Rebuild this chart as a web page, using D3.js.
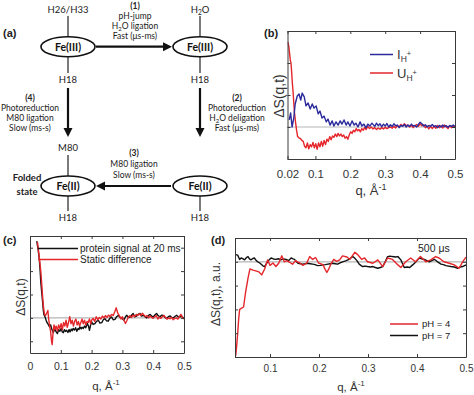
<!DOCTYPE html>
<html><head><meta charset="utf-8">
<script src="https://cdn.jsdelivr.net/npm/d3@7"></script>
<style>body{margin:0;background:#fff}svg{display:block}</style>
</head><body>
<svg id="fig" width="474" height="395"></svg>
<script>
// ---------------- DATA ----------------
// Panel (b): x ticks and two series [q, ΔS]
const bXTicks = [0.02, 0.1, 0.2, 0.3, 0.4, 0.5];
const bYTicks = [-1, 0, 1, 2, 3];
const bIH = [[.025,.22],[.029,.44],[.033,0],[.038,.28],[.042,.72],[.048,.97],[.053,1.03],[.058,.84],[.062,1.06],[.068,.94],[.073,.66],[.079,.75],[.085,.56],[.091,.72],[.096,.59],[.102,.66],[.108,.41],[.113,.5],[.119,.28],[.125,.34],[.131,.16],[.136,.25],[.142,.06],[.148,.19],[.153,.03],[.159,.16],[.165,.06],[.171,.19],[.176,.09],[.182,.22],[.188,.06],[.193,.16],[.199,.03],[.205,.19],[.211,.06],[.216,.12],[.222,0],[.228,.16],[.233,.03],[.239,.09],[.245,-.03],[.25,.09],[.256,.03],[.262,.12],[.27,.02],[.275,.12],[.28,.04],[.285,.1],[.29,.01],[.295,.09],[.3,.03],[.305,.11],[.31,0],[.315,.07],[.32,.02],[.325,.1],[.33,.04],[.335,.06],[.34,-.02],[.345,.05],[.35,.02],[.355,.08],[.36,0],[.365,.06],[.37,.02],[.375,.09],[.38,.03],[.385,.05],[.39,0],[.395,.08],[.4,.15],[.405,.1],[.41,.03],[.415,.07],[.42,0],[.425,.05],[.43,.02],[.435,.08],[.44,.01],[.445,.04],[.45,-.02],[.455,.05],[.46,0],[.465,.06],[.47,.01],[.475,.04],[.48,-.01],[.485,.05],[.49,.02],[.495,.06],[.5,.02]];
const bUH = [[.021,2.66],[.024,2.5],[.026,2.3],[.028,2.09],[.03,2.0],[.032,1.7],[.034,1.35],[.036,1.1],[.038,.75],[.04,.45],[.043,.15],[.046,-.1],[.049,-.3],[.053,-.34],[.057,-.36],[.061,-.42],[.065,-.45],[.069,-.6],[.073,-.65],[.077,-.5],[.081,-.68],[.085,-.55],[.089,-.62],[.093,-.48],[.097,-.65],[.101,-.52],[.105,-.7],[.109,-.5],[.113,-.62],[.117,-.45],[.121,-.6],[.125,-.42],[.129,-.55],[.133,-.38],[.137,-.45],[.141,-.3],[.145,-.4],[.149,-.28],[.153,-.32],[.157,-.22],[.161,-.3],[.165,-.2],[.169,-.28],[.173,-.22],[.177,-.3],[.181,-.25],[.185,-.35],[.189,-.3],[.193,-.38],[.197,-.25],[.201,-.15],[.205,-.2],[.209,-.1],[.213,-.15],[.217,-.05],[.221,-.12],[.225,-.08],[.229,-.15],[.233,-.05],[.237,-.1],[.241,-.02],[.245,-.08],[.25,.02],[.255,-.05],[.26,0],[.265,-.06],[.27,-.02],[.275,-.08],[.28,-.03],[.285,-.07],[.29,-.02],[.295,-.06],[.3,-.01],[.305,-.05],[.31,-.02],[.315,0],[.32,-.04],[.325,.02],[.33,-.03],[.335,.05],[.34,0],[.345,.08],[.35,.03],[.355,.1],[.36,.04],[.365,.06],[.37,0],[.375,.05],[.38,-.02],[.385,.04],[.39,.08],[.395,.02],[.4,.1],[.405,.04],[.41,.07],[.415,-.02],[.42,.03],[.425,-.06],[.43,.02],[.435,-.05],[.44,.03],[.445,-.04],[.45,.05],[.455,-.02],[.46,.04],[.465,-.03],[.47,.06],[.475,0],[.48,-.05],[.485,.04],[.49,-.02],[.495,.03],[.5,0]];

// Panel (c)
const cXTicks = [0, 0.1, 0.2, 0.3, 0.4, 0.5];
const cYTicks = [-1, 0, 1, 2, 3];
const cProtein = [[.022,3.28],[.026,2.95],[.03,2.54],[.033,2.0],[.035,1.54],[.038,1.1],[.041,.68],[.043,.35],[.045,.15],[.049,.04],[.054,-.17],[.058,-.25],[.063,-.38],[.067,-.3],[.07,-.45],[.073,-.55],[.076,-.63],[.079,-.5],[.081,-.48],[.085,-.6],[.089,-.67],[.093,-.5],[.097,-.57],[.101,-.45],[.105,-.6],[.108,-.63],[.112,-.5],[.115,-.58],[.119,-.53],[.123,-.62],[.127,-.5],[.13,-.6],[.134,-.48],[.137,-.55],[.14,-.45],[.144,-.52],[.148,-.42],[.152,-.57],[.156,-.45],[.159,-.5],[.162,-.38],[.166,-.47],[.169,-.4],[.173,-.45],[.177,-.35],[.181,-.42],[.186,-.24],[.19,-.35],[.193,-.53],[.197,-.3],[.2,-.17],[.205,-.28],[.211,-.24],[.216,-.15],[.222,-.1],[.227,-.22],[.233,-.2],[.238,-.08],[.243,-.03],[.248,-.12],[.254,-.14],[.259,-.02],[.265,.04],[.27,-.08],[.276,-.06],[.281,.05],[.287,.11],[.292,.02],[.297,0],[.301,-.05],[.305,-.1],[.31,.05],[.314,.11],[.32,.02],[.325,.04],[.33,.12],[.335,.19],[.34,.05],[.346,.08],[.351,.15],[.357,.19],[.362,.08],[.368,.11],[.373,.05],[.379,0],[.384,.1],[.39,.15],[.395,.08],[.4,.04],[.405,.12],[.411,.19],[.416,.1],[.422,.04],[.427,.12],[.433,.11],[.438,.02],[.444,-.03],[.449,.05],[.455,.08],[.46,.02],[.465,0],[.47,.06],[.476,.11],[.481,.05],[.487,.04],[.492,.08],[.497,0],[.5,.02]];
const cStatic = [[.024,3.25],[.027,2.95],[.03,2.6],[.033,2.25],[.035,2.0],[.038,1.47],[.041,.9],[.044,.45],[.047,.15],[.05,.1],[.054,.2],[.058,.32],[.061,-.1],[.064,-.35],[.067,-.6],[.07,-1.0],[.072,-1.14],[.075,-.6],[.078,-.3],[.081,-.5],[.085,-.35],[.089,-.55],[.093,-.3],[.097,-.45],[.101,-.25],[.105,-.5],[.109,-.2],[.113,-.35],[.117,-.1],[.121,-.4],[.125,-.2],[.129,.05],[.133,-.25],[.137,-.1],[.141,-.35],[.145,-.15],[.149,-.05],[.153,-.3],[.157,-.15],[.161,-.35],[.165,-.2],[.169,-.05],[.173,-.25],[.177,-.1],[.181,-.3],[.185,-.15],[.189,-.2],[.193,-.05],[.197,-.25],[.2,-.1],[.205,-.02],[.21,-.15],[.215,.05],[.22,-.08],[.225,.02],[.23,-.05],[.235,.08],[.24,0],[.245,.1],[.25,.02],[.255,.12],[.26,.05],[.265,.15],[.27,.1],[.275,.25],[.28,.43],[.285,.2],[.29,.1],[.295,-.05],[.3,.05],[.305,-.1],[.31,-.24],[.315,-.1],[.32,.05],[.325,.1],[.33,.02],[.335,.12],[.34,.05],[.345,.15],[.35,.1],[.355,.18],[.36,.1],[.365,.2],[.37,.12],[.375,.05],[.38,.1],[.385,0],[.39,.08],[.395,.02],[.4,-.02],[.405,.05],[.41,.1],[.415,-.05],[.42,.03],[.425,-.02],[.43,.06],[.435,.1],[.44,.02],[.445,-.05],[.45,0],[.455,-.04],[.46,.02],[.465,-.08],[.47,-.02],[.475,0],[.48,-.05],[.485,.05],[.49,.15],[.495,.02],[.5,-.05]];

// Panel (d)
const dXTicks = [0.1, 0.2, 0.3, 0.4, 0.5];
const dYTicks = [-4, -3, -2, -1, 0, 1];
const dPH7 = [[.03,.3],[.034,.28],[.038,.1],[.041,.16],[.045,.12],[.048,.08],[.052,.18],[.055,.22],[.058,.12],[.061,.08],[.065,.14],[.068,.16],[.072,.05],[.075,0],[.079,-.05],[.082,-.1],[.086,-.18],[.089,-.2],[.092,-.1],[.095,0],[.099,.1],[.102,.16],[.107,.12],[.112,.1],[.117,.13],[.122,.08],[.127,.12],[.133,.1],[.138,.05],[.143,.16],[.147,.12],[.15,.1],[.154,0],[.157,-.06],[.162,-.08],[.167,-.1],[.172,-.08],[.177,-.06],[.182,-.08],[.187,-.1],[.192,-.12],[.197,-.16],[.203,-.15],[.208,-.13],[.213,-.12],[.218,-.1],[.223,-.08],[.228,-.06],[.233,-.08],[.238,-.1],[.243,-.05],[.248,0],[.254,.04],[.259,.08],[.264,.15],[.269,.22],[.273,.15],[.276,.08],[.279,0],[.282,-.1],[.286,-.16],[.289,-.2],[.294,-.18],[.299,-.2],[.305,-.22],[.31,-.2],[.315,-.24],[.32,-.27],[.325,-.24],[.33,-.2],[.335,0],[.34,.22],[.345,.24],[.35,.22],[.356,.2],[.361,.22],[.364,.15],[.367,.08],[.371,-.1],[.374,-.24],[.38,-.22],[.385,-.24],[.39,-.15],[.395,-.06],[.4,.05],[.405,.16],[.41,.12],[.415,.1],[.42,.05],[.425,0],[.43,.05],[.436,.1],[.442,0],[.449,-.1],[.454,-.12],[.459,-.16],[.464,-.18],[.469,-.2],[.476,-.22],[.483,-.27],[.488,-.22],[.493,-.2],[.5,-.13]];
const dPH4 = [[.03,-3.95],[.032,-3.5],[.034,-3.0],[.036,-2.4],[.038,-2.0],[.042,-1.95],[.046,-1.9],[.05,-1.3],[.055,-.7],[.059,-.3],[.065,-.35],[.071,-.38],[.077,-.42],[.083,-.55],[.089,-.3],[.095,.08],[.1,-.15],[.106,-.05],[.112,-.2],[.118,-.05],[.124,.25],[.129,0],[.134,.05],[.14,-.02],[.146,-.1],[.152,.05],[.156,0],[.161,-.05],[.167,-.15],[.175,-.05],[.181,.22],[.187,.1],[.193,.18],[.199,-.05],[.208,-.12],[.212,-.3],[.216,-.45],[.22,-.3],[.224,-.1],[.23,.1],[.236,.02],[.242,.08],[.248,.25],[.257,.2],[.263,.1],[.268,.25],[.273,.4],[.279,.3],[.283,.2],[.287,.1],[.293,.16],[.299,0],[.31,-.06],[.32,.08],[.33,-.2],[.34,.16],[.35,.1],[.361,-.13],[.367,-.24],[.377,0],[.387,.16],[.397,0],[.407,.22],[.418,0],[.428,.08],[.438,.22],[.445,.16],[.455,0],[.466,-.06],[.476,-.13],[.486,-.27],[.493,0],[.5,.2]];

// ---------------- DRAWING ----------------
const svg = d3.select("#fig");
const AX = "'Liberation Sans', Arial, sans-serif";
const DG = "Lato, 'Open Sans', sans-serif";
const RED = "#e5262b", BLUE = "#2b2b9e", BLK = "#111";

function drawPanel(o) {
  const g = svg.append("g").attr("font-family", AX);
  const x = d3.scaleLinear().domain(o.xDom).range([o.l, o.r]);
  const y = d3.scaleLinear().domain(o.yDom).range([o.b, o.t]);
  const cid = "clip" + o.id;
  svg.append("clipPath").attr("id", cid).append("rect")
    .attr("x", o.l).attr("y", o.t).attr("width", o.r - o.l).attr("height", o.b - o.t);
  g.append("line").attr("x1", o.l).attr("x2", o.r).attr("y1", y(0)).attr("y2", y(0))
    .attr("stroke", "#b5b5b5").attr("stroke-width", 1.2);
  const line = d3.line().x(d => x(d[0])).y(d => y(d[1]));
  o.series.forEach(s => g.append("path").attr("clip-path", `url(#${cid})`)
    .attr("d", line(s.data)).attr("fill", "none").attr("stroke", s.color)
    .attr("stroke-width", 1.4).attr("stroke-linejoin", "round"));
  const style = a => {
    a.selectAll(".domain").attr("stroke", "#3a3a3a");
    a.selectAll(".tick line").attr("stroke", "#3a3a3a");
    a.selectAll("text").attr("font-family", AX).attr("fill", "#333").attr("font-size", o.tickFs);
  };
  g.append("g").attr("transform", `translate(0,${o.b})`)
    .call(d3.axisBottom(x).tickValues(o.xTicks).tickFormat(d => String(d)).tickSizeInner(-3).tickSizeOuter(0).tickPadding(o.tickPad)).call(style);
  g.append("g").attr("transform", `translate(0,${o.t})`)
    .call(d3.axisTop(x).tickValues(o.xTicks).tickFormat("").tickSizeInner(-3).tickSizeOuter(0)).call(style);
  g.append("g").attr("transform", `translate(${o.l},0)`)
    .call(d3.axisLeft(y).tickValues(o.yTicks).tickFormat("").tickSizeInner(-3).tickSizeOuter(0)).call(style);
  g.append("g").attr("transform", `translate(${o.r},0)`)
    .call(d3.axisRight(y).tickValues(o.yTicks).tickFormat("").tickSizeInner(-3).tickSizeOuter(0)).call(style);
  // x title
  const xt = g.append("text").attr("x", o.xtX).attr("y", o.xtY).attr("text-anchor", "middle")
    .attr("font-size", o.xtFs).attr("fill", "#333");
  xt.append("tspan").text("q, Å");
  xt.append("tspan").attr("dy", -o.xtFs * 0.4).attr("font-size", o.xtFs * 0.7).text("-1");
  // y title
  g.append("text").attr("transform", `translate(${o.ytX},${o.ytY}) rotate(-90)`)
    .attr("text-anchor", "middle").attr("dy", "0.35em").attr("font-size", o.ytFs).attr("fill", "#333").text(o.yTitle);
  // panel label
  svg.append("text").attr("x", o.labX).attr("y", o.labY).attr("font-family", AX).attr("font-weight", "bold")
    .attr("font-size", 11).attr("fill", "#222").text(o.label);
  return { g, x, y };
}

// Panel (b)
const pb = drawPanel({ id: "b", l: 287.5, r: 455, t: 31, b: 159, xDom: [0.02, 0.5], yDom: [-1, 3],
  xTicks: bXTicks, yTicks: bYTicks, tickFs: 11.5, tickPad: 11,
  series: [{ data: bUH, color: RED }, { data: bIH, color: BLUE }],
  xtX: 371, xtY: 195, xtFs: 13, ytX: 279, ytY: 96, ytFs: 14, yTitle: "ΔS(q,t)",
  labX: 264, labY: 37, label: "(b)" });
[{ c: BLUE, y: 54.5, s: "I" }, { c: RED, y: 73, s: "U" }].forEach(e => {
  pb.g.append("line").attr("x1", 370).attr("x2", 393).attr("y1", e.y).attr("y2", e.y).attr("stroke", e.c).attr("stroke-width", 1.5);
  const t = pb.g.append("text").attr("x", 397).attr("y", e.y + 4.5).attr("font-size", 13).attr("fill", "#333");
  t.append("tspan").text(e.s);
  t.append("tspan").attr("dy", 3).attr("font-size", 8.5).text("H");
  t.append("tspan").attr("dy", -6).attr("font-size", 7.5).text("+");
});

// Panel (c)
const pc = drawPanel({ id: "c", l: 30, r: 184, t: 236, b: 353, xDom: [0, 0.5], yDom: [-1.5, 3.5],
  xTicks: cXTicks, yTicks: cYTicks, tickFs: 10.5, tickPad: 10,
  series: [{ data: cProtein, color: BLK }, { data: cStatic, color: RED }],
  xtX: 106, xtY: 390, xtFs: 11.5, ytX: 21, ytY: 297, ytFs: 12, yTitle: "ΔS(q,t)",
  labX: 3, labY: 244, label: "(c)" });
[{ c: BLK, y: 248.5, s: "protein signal at 20 ms" }, { c: RED, y: 259.5, s: "Static difference" }].forEach(e => {
  pc.g.append("line").attr("x1", 38).attr("x2", 78).attr("y1", e.y).attr("y2", e.y).attr("stroke", e.c).attr("stroke-width", 1.5);
  pc.g.append("text").attr("x", 80).attr("y", e.y + 3.6).attr("font-size", 10).attr("fill", "#222").text(e.s);
});

// Panel (d)
const pd = drawPanel({ id: "d", l: 235, r: 466, t: 238, b: 357, xDom: [0.0285, 0.5], yDom: [-4, 1],
  xTicks: dXTicks, yTicks: dYTicks, tickFs: 10, tickPad: 8,
  series: [{ data: dPH7, color: BLK }, { data: dPH4, color: RED }],
  xtX: 351, xtY: 391, xtFs: 11.5, ytX: 216, ytY: 294, ytFs: 12, yTitle: "ΔS(q,t), a.u.",
  labX: 211, labY: 244, label: "(d)" });
pd.g.append("text").attr("x", 418).attr("y", 252).attr("font-size", 10.5).attr("fill", "#222").text("500 μs");
[{ c: RED, y: 324, s: "pH = 4" }, { c: BLK, y: 335.5, s: "pH = 7" }].forEach(e => {
  pd.g.append("line").attr("x1", 390).attr("x2", 418).attr("y1", e.y).attr("y2", e.y).attr("stroke", e.c).attr("stroke-width", 1.5);
  pd.g.append("text").attr("x", 422).attr("y", e.y + 3.4).attr("font-size", 9.5).attr("fill", "#222").text(e.s);
});

// ---------------- Panel (a) scheme ----------------
const dg = svg.append("g").attr("font-family", DG).attr("fill", "#222");
const nodes = [
  { x: 68, y: 46.7, t: "Fe(III)" }, { x: 200, y: 46.7, t: "Fe(III)" },
  { x: 68, y: 186, t: "Fe(II)" }, { x: 200, y: 186, t: "Fe(II)" }];
const stems = [[68, 16, 68, 73], [200, 16, 200, 73], [68, 155, 68, 211], [200, 190, 200, 211]];
const arrows = [[96, 46.7, 172, 46.7], [68, 88, 68, 137], [200, 88, 200, 137], [171, 186, 96, 186]];
// text items: [x, yCenter, parts, size, bold]
const H2O = (rest) => [["H"], ["2", "sub"], ["O" + rest]];
const labels = [
  [68, 10, [["H26/H33"]], 9.5], [200, 10, H2O(""), 9.5],
  [68, 80, [["H18"]], 9.5], [200, 80, [["H18"]], 9.5],
  [68, 148, [["M80"]], 9.5], [68, 218, [["H18"]], 9.5], [200, 218, [["H18"]], 9.5],
  [135, 6, [["(1)"]], 8.5, true], [135, 16, [["pH-jump"]], 8.5], [135, 26, H2O(" ligation"), 8.5], [135, 36, [["Fast (μs-ms)"]], 8.5],
  [30, 98, [["(4)"]], 8.5, true], [30, 108, [["Photoreduction"]], 8.5], [30, 118, [["M80 ligation"]], 8.5], [30, 128, [["Slow (ms-s)"]], 8.5],
  [237, 98, [["(2)"]], 8.5, true], [237, 108, [["Photoreduction"]], 8.5], [237, 118, H2O(" deligation"), 8.5], [237, 128, [["Fast (μs-ms)"]], 8.5],
  [134, 153, [["(3)"]], 8.5, true], [134, 164, [["M80 ligation"]], 8.5], [134, 175, [["Slow (ms-s)"]], 8.5],
  [27, 178, [["Folded"]], 9.5, true], [27, 192, [["state"]], 9.5, true]];

stems.forEach(s => dg.append("line").attr("x1", s[0]).attr("y1", s[1]).attr("x2", s[2]).attr("y2", s[3])
  .attr("stroke", "#222").attr("stroke-width", 1.2));
arrows.forEach(a => {
  const [x1, y1, x2, y2] = a, L = Math.hypot(x2 - x1, y2 - y1), ux = (x2 - x1) / L, uy = (y2 - y1) / L;
  const hl = 9, hw = 4.5, bx = x2 - ux * hl, by = y2 - uy * hl;
  dg.append("line").attr("x1", x1).attr("y1", y1).attr("x2", bx + ux).attr("y2", by + uy)
    .attr("stroke", "#111").attr("stroke-width", 2.2);
  dg.append("path").attr("d", `M${x2},${y2}L${bx - uy * hw},${by + ux * hw}L${bx + uy * hw},${by - ux * hw}Z`).attr("fill", "#111");
});
nodes.forEach(n => {
  dg.append("ellipse").attr("cx", n.x).attr("cy", n.y).attr("rx", 27).attr("ry", 10)
    .attr("fill", "#fff").attr("stroke", "#111").attr("stroke-width", 1.6);
  dg.append("text").attr("x", n.x).attr("y", n.y + 3.8).attr("text-anchor", "middle")
    .attr("font-weight", "bold").attr("font-size", 10.5).attr("fill", "#111").text(n.t);
});
labels.forEach(l => {
  const t = dg.append("text").attr("x", l[0]).attr("y", l[1] + l[3] * 0.36).attr("text-anchor", "middle")
    .attr("font-size", l[3]).attr("font-weight", l[4] ? "bold" : "normal");
  l[2].forEach(p => {
    const ts = t.append("tspan").text(p[0]);
    if (p[1] === "sub") { ts.attr("font-size", l[3] * 0.7).attr("dy", 2); }
    else if (t.selectAll("tspan").size() > 1) { ts.attr("dy", t.node().dataset.sub ? 0 : 0); }
  });
  // reset baseline after subscript
  t.selectAll("tspan").each(function (d, i, arr) {
    if (i > 0 && arr[i - 1].textContent && d3.select(arr[i - 1]).attr("dy") === "2") d3.select(this).attr("dy", -2);
  });
});
svg.append("text").attr("x", 3).attr("y", 37).attr("font-family", AX).attr("font-weight", "bold")
  .attr("font-size", 11).attr("fill", "#222").text("(a)");
</script>
</body></html>
